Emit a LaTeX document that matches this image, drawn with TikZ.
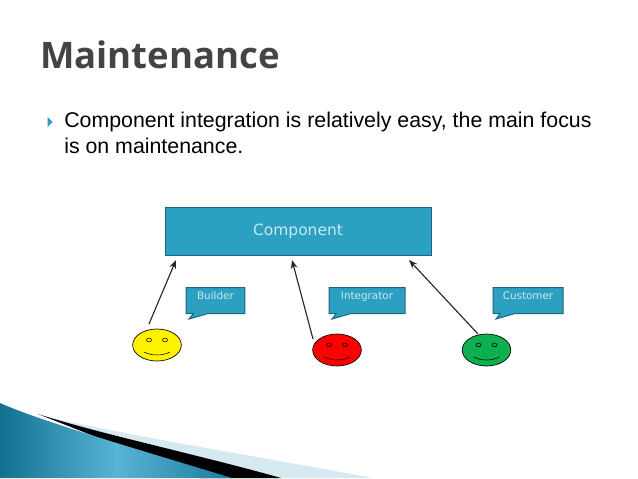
\documentclass[tikz,border=0pt]{standalone}
\usepackage{xcolor}
\usepackage{fontspec}
\setmainfont{Liberation Sans}
\newfontfamily\titlefont{Open Sans}
\newfontfamily\boxfont{DejaVu Sans}
\usetikzlibrary{shapes.geometric, shapes.callouts, positioning, calc, arrows.meta}
\definecolor{boxblue}{RGB}{44, 160, 193}
\definecolor{boxedge}{RGB}{30, 100, 125}
\definecolor{boxtext}{RGB}{200, 232, 242}
\definecolor{titlegray}{RGB}{68, 68, 68}
\definecolor{wedgedark}{RGB}{18, 112, 145}
\definecolor{wedgelight}{RGB}{88, 180, 212}
\definecolor{wedgepale}{RGB}{214, 232, 240}
\definecolor{facegreen}{RGB}{12, 176, 80}

\begin{document}
\begin{tikzpicture}[
    x=0.75pt, y=-0.75pt,
    box/.style={rectangle, draw=boxedge, line width=0.75pt, fill=boxblue, text=boxtext, inner sep=0pt},
    bubble/.style={rectangle callout, draw=boxedge, line width=0.75pt, fill=boxblue, text=boxtext, inner sep=0pt, minimum height=19.5pt, text height=6pt, text depth=8pt, callout pointer width=11pt, font=\boxfont\fontsize{7.8}{10}\selectfont},
    face/.style={ellipse, draw=black, line width=0.5pt, minimum width=36.5pt, minimum height=24pt, inner sep=0pt},
    link/.style={-{Stealth[length=6.5pt,width=5pt]}, line width=0.85pt, draw=black!85}
]
\useasboundingbox (0,0) rectangle (638,478);

% corner wedge
\fill[wedgepale] (43,416) .. controls (150,440) and (280,460) .. (372,478) -- (200,478) -- cycle;
\fill[black] (38,414) .. controls (100,434) and (200,455) .. (281,478) -- (200,478) -- cycle;
\shade[left color=wedgedark, right color=wedgedark!85!wedgelight, middle color=wedgelight]
    (0,403) .. controls (40,421) and (140,450) .. (232,478) -- (0,478) -- cycle;

% heading and bullet
\node[anchor=base west, inner sep=0pt, text=titlegray, font=\titlefont\bfseries\fontsize{27.4}{32}\selectfont] (heading) at (40,69) {Maintenance};
\fill[boxblue] (47.5,117) -- (52.5,122) -- (47.5,127) -- cycle;
\node[anchor=base west, inner sep=0pt, align=left, font=\fontsize{16}{19.5}\selectfont] (intro) at (64,153)
    {Component integration is relatively easy, the main focus\\is on maintenance.};

% component and speech bubbles
\node[box, minimum width=199.5pt, minimum height=36pt, font=\boxfont\fontsize{11.6}{13}\selectfont] (component) at (298,231) {Component};
\node[bubble, minimum width=44pt, callout absolute pointer={(189,319)}] (builder) at (215.5,300.5) {Builder};
\node[bubble, minimum width=57pt, callout absolute pointer={(332,319)}] (integrator) at (367,300.5) {Integrator};
\node[bubble, minimum width=52.5pt, callout absolute pointer={(496,319)}] (customer) at (528,300.5) {Customer};

% smileys
\node[face, fill=yellow] (yellowface) at (157,345) {};
\node[face, fill=red] (redface) at (337,350) {};
\node[face, fill=facegreen] (greenface) at (486.5,350) {};
\foreach \who in {yellowface, redface, greenface} {
    \draw[line width=0.4pt] ($(\who.center)+(-8,-5)$) ellipse (1.9pt and 1.4pt);
    \draw[line width=0.4pt] ($(\who.center)+(8,-5)$) ellipse (1.9pt and 1.4pt);
    \draw[line width=0.4pt] ($(\who.center)+(-13,7)$) .. controls ($(\who.center)+(-5,11)$) and ($(\who.center)+(5,11)$) .. ($(\who.center)+(13,7)$);
}

% arrows up to the component
\coordinate (yellowtail) at (149,324);
\coordinate (redtail) at (313,339);
\coordinate (greentail) at (478,334);
\coordinate (yellowtip) at (176,260);
\coordinate (redtip) at (292,260);
\coordinate (greentip) at (409,260);
\draw[link] (yellowtail) -- (yellowtip);
\draw[link] (redtail) -- (redtip);
\draw[link] (greentail) -- (greentip);
\end{tikzpicture}
\end{document}
